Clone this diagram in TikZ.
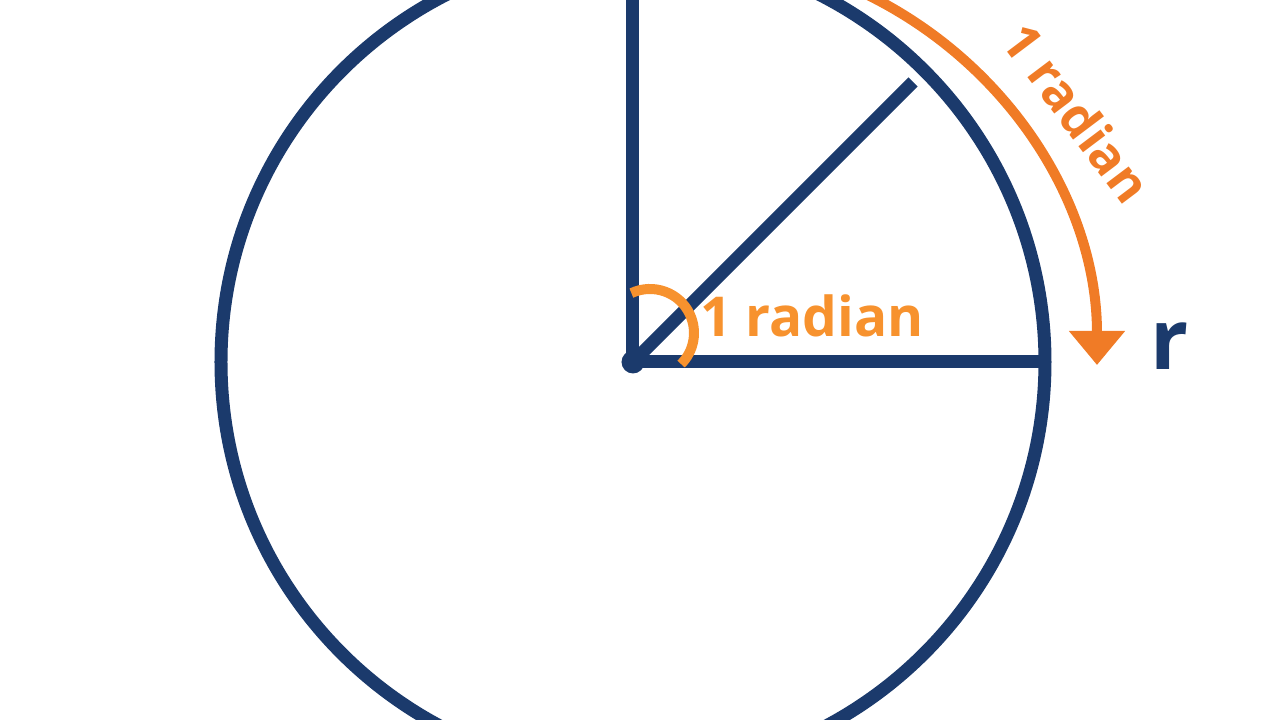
\documentclass[tikz,border=0pt]{standalone}
\usepackage{fontspec}
\setmainfont{Open Sans}
\usetikzlibrary{arrows.meta}
\definecolor{navy}{HTML}{1B3A6C}
\definecolor{arcorange}{HTML}{F07B26}
\definecolor{lblorange}{HTML}{F7922E}
\tikzset{
	radline/.style={navy,line width=13pt},
	radlabel/.style={font=\fontsize{55}{60}\selectfont\bfseries,inner sep=0pt}
}
\begin{document}
\begin{tikzpicture}
	\useasboundingbox (-633pt,-358pt) rectangle (647pt,362pt);
	\clip (-633pt,-358pt) rectangle (647pt,362pt);
	\coordinate (O) at (0,0);
	\coordinate (top) at (0,400pt);
	\coordinate (tip) at (280pt,280pt);
	\coordinate (B) at (412pt,0);
	\draw[radline] (O) circle (412pt);
	\draw[radline] (O) -- (top);
	\draw[radline] (O) -- (tip);
	\draw[radline] (O) -- (B);
	\fill[navy] (O) circle (11.5pt);
	% small angle mark
	\draw[lblorange,line width=10pt] (-1.6pt,68.9pt) arc[start angle=115,end angle=-45,radius=44pt];
	\node[lblorange,radlabel,anchor=base] (inner) at (179pt,25pt) {1 radian};
	% arc of length r
	\draw[arcorange,line width=10pt,-{Triangle[width=54pt,length=34pt]}] (51pt,-3pt) ++(75:413pt) arc[start angle=75,end angle=0,radius=413pt];
	\node[arcorange,radlabel,font=\fontsize{51}{56}\selectfont\bfseries,rotate=-53,anchor=base] (outer) at (429pt,238pt) {1 radian};
	\node[navy,font=\fontsize{84}{90}\selectfont\bfseries,inner sep=0pt,anchor=base] (r) at (537pt,-8pt) {r};
\end{tikzpicture}
\end{document}
